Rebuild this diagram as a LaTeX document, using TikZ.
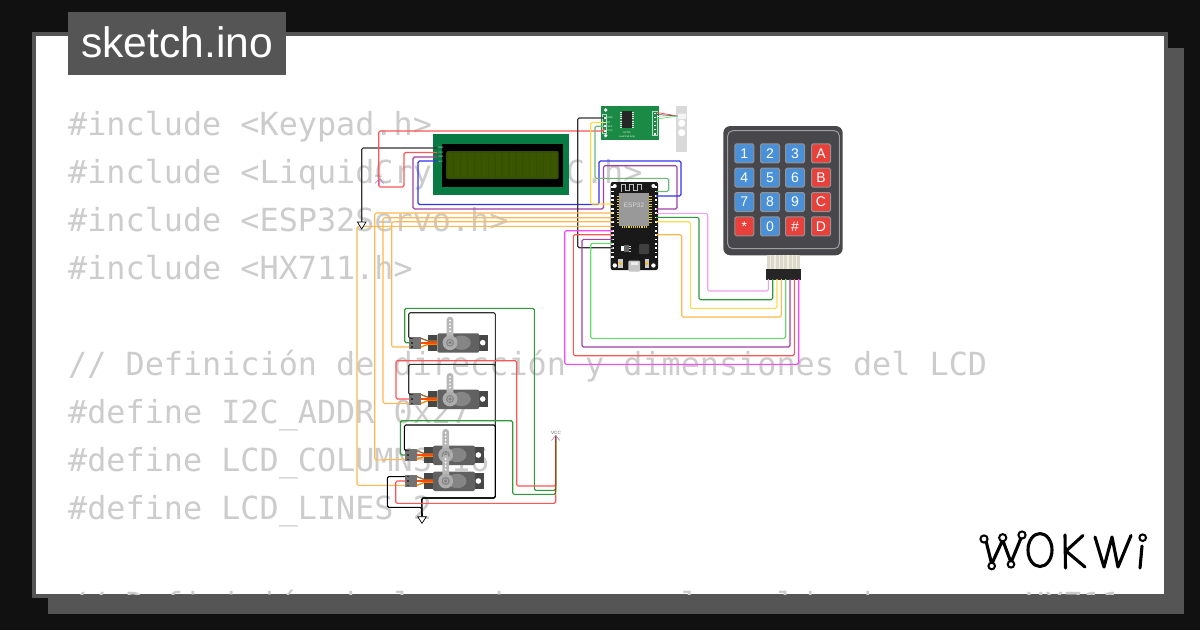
\documentclass[tikz,border=0pt]{standalone}
\usepackage{fontspec}
\setmainfont{Liberation Sans}
\newfontfamily\codefont{DejaVu Sans Mono}
\definecolor{bgdark}{HTML}{111111}
\definecolor{framegray}{HTML}{555555}
\definecolor{codegray}{HTML}{CCCCCC}
\definecolor{wblack}{HTML}{333333}
\definecolor{wred}{HTML}{FF5555}
\definecolor{wblue}{HTML}{3333EE}
\definecolor{wpurple}{HTML}{A040A8}
\definecolor{wgreen}{HTML}{2E9A3A}
\definecolor{wlgreen}{HTML}{66DD66}
\definecolor{wyellow}{HTML}{FFD94A}
\definecolor{worange}{HTML}{FFB84D}
\definecolor{wmagenta}{HTML}{FF44FF}
\definecolor{wviolet}{HTML}{F0A0F0}
\definecolor{keyblue}{HTML}{4A90D9}
\definecolor{keyred}{HTML}{E8413C}
\definecolor{lcdgreen}{HTML}{087A44}
\definecolor{lcdscreen}{HTML}{355000}
\definecolor{lcdcell}{HTML}{3A5600}
\definecolor{hxgreen}{HTML}{1A8A45}
\definecolor{kpbody}{HTML}{47474C}
\definecolor{ribbon}{HTML}{DDD9C8}
\definecolor{vccline}{HTML}{B03A1A}
\tikzset{
  wire/.style={line width=1.1pt,rounded corners=1.5pt},
  codeline/.style={anchor=base west,inner sep=0pt,text=codegray,font=\codefont\fontsize{31.8}{32}\selectfont},
  tinylabel/.style={inner sep=0pt,text=#1,font=\fontsize{2.4}{3}\selectfont},
  keycap/.style={draw=gray!85!white,fill=#1,line width=1pt,rounded corners=1.5pt,minimum size=19pt,inner sep=0pt,text=white,font=\fontsize{14}{14}\selectfont},
  logo/.style={line width=3.1pt,line cap=round,line join=round,black},
  logodot/.style={draw=black,fill=white,line width=2pt},
  gndsym/.style={draw=black,fill=white,line width=0.7pt},
  pinsq/.style={fill=white}
}
\newcommand{\servopart}[3]{%
  \begin{scope}[shift={(#1,#2)}]
    \fill[black!55!white] (0,-6) rectangle (11.7,6.3);
    \foreach \yy in {-4.4,0,4.3}{\fill[black!80] (1.5,\yy-0.8) rectangle (4,\yy+0.8);}
    \draw[line width=1.3pt,color=brown!80!black] (11.7,-4.4) -- (19,-1.6) -- (28,-1.6);
    \draw[line width=1.3pt,color=orange] (11.7,4.3) -- (19,1.6) -- (28,1.6);
    \draw[line width=1.6pt,color=orange!60!red] (11.7,0) -- (19,0) -- (28,0);
    \fill[black!72] (19,-8) rectangle (28,8);
    \draw[line width=1.3pt,color=brown!80!black] (19,-1.6) -- (28,-1.6);
    \draw[line width=1.3pt,color=orange] (19,1.6) -- (28,1.6);
    \draw[line width=1.6pt,color=orange!60!red] (19,0) -- (28,0);
    \fill[black!72] (69,-8) rectangle (78.5,8);
    \fill[white] (73.4,0) circle (2.8);
    \fill[black!62,rounded corners=2pt] (28,-9.4) rectangle (70,10);
    \fill[black!48] (52,0) ellipse (9.5 and 7.2);
    \fill[black!28,rounded corners=3pt] (37.4,-26) rectangle (44,0);
    \fill[black!32] (40.7,0) circle (7.4);
    \fill[black!48] (40.7,0) circle (4);
    \draw[black!28,line width=0.6pt] (40.7,0) circle (2.2);
    \foreach \yy in {-22,-18.5,-15,-11.5}{\fill[white] (40.7,\yy) circle (1);}
    \coordinate (#3g) at (0,-4.4);
    \coordinate (#3v) at (0,0);
    \coordinate (#3s) at (0,4.3);
  \end{scope}}
\begin{document}
\begin{tikzpicture}[x=1pt,y=-1pt]
\useasboundingbox (0,0) rectangle (1200,630);
\fill[bgdark] (0,0) rectangle (1200,630);
\fill[framegray] (48,48) rectangle (1184,614);
\fill[framegray] (32,32) rectangle (1168,598);
\fill[white] (36,36) rectangle (1164,594);
% code behind the picture
\begin{scope}
\clip (36,36) rectangle (1164,594);
\node[codeline] (c1) at (68,135) {\#include <Keypad.h>};
\node[codeline] (c2) at (68,183) {\#include <LiquidCrystal\_I2C.h>};
\node[codeline] (c3) at (68,231) {\#include <ESP32Servo.h>};
\node[codeline] (c4) at (68,279) {\#include <HX711.h>};
\node[codeline] (c5) at (68,375) {// Definición de dirección y dimensiones del LCD};
\node[codeline] (c6) at (68,423) {\#define I2C\_ADDR 0x27};
\node[codeline] (c7) at (68,471) {\#define LCD\_COLUMNS 16};
\node[codeline] (c8) at (68,519) {\#define LCD\_LINES 2};
\node[codeline] (c9) at (68,615) {// Definición de los pines para la celda de carga HX711};
\end{scope}
% title tab
\fill[framegray] (68,12) rectangle (286,75);
\node[anchor=base west,inner sep=0pt,text=white,font=\fontsize{42.6}{43}\selectfont] (title) at (81,57.3) {sketch.ino};
% LCD
\fill[lcdgreen] (433.3,134) rectangle (569.3,195);
\fill[black] (441.7,143.7) rectangle (562.7,186.7);
\fill[lcdscreen,rounded corners=2pt] (446,151) rectangle (558.7,179);
\foreach \i in {0,...,15}{\fill[lcdcell] (447.5+\i*6.9,153) rectangle (453+\i*6.9,177);}
\node[tinylabel=gray!30] (lgnd) at (441,148) {GND};
\node[tinylabel=gray!30] (lvcc) at (441,152.5) {VCC};
\node[tinylabel=gray!30] (lsda) at (441,157) {SDA};
\node[tinylabel=gray!30] (lscl) at (441,161.2) {SCL};
\foreach \n/\yy in {lcdgnd/148,lcdvcc/152.5,lcdsda/157,lcdscl/161}{\coordinate (\n) at (437,\yy);}
% HX711
\fill[hxgreen] (601,106) rectangle (658.7,140);
\fill[black!85] (622.3,110.7) rectangle (632.3,127.7);
\foreach \i in {0,...,7}{\fill[white!85!gray] (620.3,111.7+\i*2.2) rectangle (622.3,112.7+\i*2.2);\fill[white!85!gray] (632.3,111.7+\i*2.2) rectangle (634.3,112.7+\i*2.2);}
\fill[white] (605.7,110) circle (1.8);
\fill[white] (605.7,135.7) circle (1.8);
\draw[white!70!hxgreen,line width=0.6pt] (602.5,114.5) rectangle (606.5,133);
\draw[white!70!hxgreen,line width=0.6pt] (652.5,111) rectangle (657,135);
\foreach \yy in {118,122.5,126.2,130.7}{\fill[white] (604,\yy-0.8) rectangle (605.5,\yy+0.8);}
\foreach \i in {0,...,5}{\fill[white] (654,112.5+\i*4.1) rectangle (655.7,114+\i*4.1);}
\node[tinylabel=white] (hxa) at (610,118) {GND};
\node[tinylabel=white] (hxb) at (609,122.5) {DT};
\node[tinylabel=white] (hxc) at (610,126.2) {SCK};
\node[tinylabel=white] (hxd) at (610,130.7) {VCC};
\node[tinylabel=white] (hxe) at (627,133) {HX711};
\node[tinylabel=white] (hxf) at (627,137) {Load Cell Amp};
\foreach \n/\yy in {hxgnd/118,hxdt/122.5,hxsck/126.2,hxvcc/130.7}{\coordinate (\n) at (604,\yy);}
% load cell
\fill[gray!30] (676.3,106) rectangle (687,151.7);
\fill[white!92!gray,rounded corners=1pt] (677.5,113.5) rectangle (686,119);
\fill[white] (681.7,123.3) circle (3.6);
\fill[white] (681.7,132.7) circle (3.6);
\coordinate (lc) at (677.5,116);
\coordinate (hxr) at (657,112.5);
\coordinate (hxk) at (657,114.5);
\coordinate (hxw) at (657,116.6);
\coordinate (hxg) at (657,119);
\draw[line width=0.7pt,color=red!75!white] (hxr) -- (lc);
\draw[line width=0.7pt,color=black!70] (hxk) -- (lc);
\draw[line width=0.7pt,color=gray!20] (hxw) -- (lc);
\draw[line width=0.7pt,color=wlgreen] (hxg) -- (lc);
% ESP32
\fill[black!90,rounded corners=2pt] (610.7,182) rectangle (658,270);
\foreach \i in {0,...,16}{
  \fill[white] (611.4,186.3+\i*4.36) rectangle (614.2,187.9+\i*4.36);
  \fill[white] (654.5,186.3+\i*4.36) rectangle (657.3,187.9+\i*4.36);}
\draw[white!75!black,line width=0.6pt] (621,192) -- (621,184.5) -- (625,184.5) -- (625,190) -- (629,190) -- (629,184.5) -- (633,184.5) -- (633,190) -- (637,190) -- (637,184.5) -- (641,184.5) -- (641,190);
\fill[gray!80!white] (619,192.7) rectangle (649.3,226);
\foreach \i in {0,...,13}{\fill[yellow!70!brown] (622+\i*1.85,226.2) rectangle (623+\i*1.85,228);}
\foreach \i in {0,...,10}{\fill[yellow!70!brown] (616.8,196+\i*2.6) rectangle (619,197+\i*2.6);\fill[yellow!70!brown] (649.3,196+\i*2.6) rectangle (651.5,197+\i*2.6);}
\node[inner sep=0pt,text=gray!30,font=\fontsize{6.5}{7}\selectfont] (esplabel) at (634,205.3) {ESP32};
\fill[white] (620.5,246) rectangle (623.5,251);
\fill[black!60] (624,245) rectangle (629,252);
\fill[white!80!black] (629,245.5) rectangle (631,246.5);\fill[white!80!black] (629,248) rectangle (631,249);\fill[white!80!black] (629,250.5) rectangle (631,251.5);
\fill[black!75,rounded corners=1pt] (639,244) rectangle (649,254);
\fill[white] (614.8,186) circle (2);
\fill[white] (653.4,186) circle (2);
\fill[white] (614.8,265.5) circle (2.2);
\fill[white] (653.4,265.5) circle (2.2);
\fill[gray!40] (618,259) rectangle (622.5,268);
\fill[orange!50!yellow] (620.2,263.5) circle (1.6);
\fill[gray!40] (644.5,259) rectangle (649,268);
\fill[orange!50!yellow] (646.7,263.5) circle (1.6);
\fill[gray!45,rounded corners=1pt] (628.3,260.7) rectangle (640,271.7);
\fill[white!85!gray] (630.5,262) rectangle (638,265);
\foreach \n/\yy in {ea/204,eb/213,ec/217.7,ed/221.7,ee/226.3,ef/230.7,eg/234.7,eh/239.3,ei/243.3,ej/247.7}{\coordinate (\n) at (612.5,\yy);}
\foreach \n/\yy in {ra/191.5,rb/196,rc/209,rd/213.3,re/217.3,rf/221.7,rg/234.7}{\coordinate (\n) at (656,\yy);}
% keypad
\fill[kpbody,rounded corners=7pt] (723.3,126) rectangle (842.7,255.3);
\draw[gray!75!white,line width=1pt,rounded corners=5pt] (727.7,130.7) rectangle (839.3,248.7);
\node[keycap=keyblue] (k1) at (744.3,153.3) {1};
\node[keycap=keyblue] (k2) at (770,153.3) {2};
\node[keycap=keyblue] (k3) at (795,153.3) {3};
\node[keycap=keyred] (kA) at (821,153.3) {A};
\node[keycap=keyblue] (k4) at (744.3,177.5) {4};
\node[keycap=keyblue] (k5) at (770,177.5) {5};
\node[keycap=keyblue] (k6) at (795,177.5) {6};
\node[keycap=keyred] (kB) at (821,177.5) {B};
\node[keycap=keyblue] (k7) at (744.3,202) {7};
\node[keycap=keyblue] (k8) at (770,202) {8};
\node[keycap=keyblue] (k9) at (795,202) {9};
\node[keycap=keyred] (kC) at (821,202) {C};
\node[keycap=keyred] (kS) at (744.3,226.3) {*};
\node[keycap=keyblue] (k0) at (770,226.3) {0};
\node[keycap=keyred] (kH) at (795,226.3) {\#};
\node[keycap=keyred] (kD) at (821,226.3) {D};
\fill[ribbon!45!white] (766.7,255.3) rectangle (800,269.3);
\foreach \i in {0,...,7}{\fill[ribbon] (767+\i*4.35,255.3) rectangle (769.8+\i*4.35,269.3);}
\fill[black!85] (765.7,269.3) rectangle (800.7,280.3);
\foreach \n/\xx in {pa/768.3,pb/772.7,pc/777,pd/781.3,pe/785.7,pf/790,pg/794.3,ph/798.7}{\coordinate (\n) at (\xx,279);}
% servos
\servopart{409.3}{342.7}{sa}
\servopart{409.3}{399}{sb}
\servopart{405}{455}{sc}
\servopart{405}{481}{sd}
% power symbols
\coordinate (gnda) at (361.7,222);
\coordinate (gndb) at (422,516.7);
\coordinate (vcca) at (379.3,179);
\coordinate (vccb) at (555.7,435.5);
\node[tinylabel=gray!80!black,font=\fontsize{3.4}{4}\selectfont] (vcclcd) at (378.5,176) {VCC};
\node[tinylabel=gray!80!black,font=\fontsize{4.6}{5}\selectfont] (vccserv) at (556,432.5) {VCC};
% wires LCD
\draw[wire,wblack] (lcdgnd) -- (361.7,148) -- (gnda);
\draw[wire,wred] (lcdvcc) -- (404,152.5) -- (404,187) -- (378.7,187) -- (378.7,131) -- (604,131) -- (hxvcc);
\draw[wire,wpurple] (lcdsda) -- (413,157) -- (413,209) -- (603.5,209) -- (603.5,165.7) -- (677,165.7) -- (677,209) -- (rc);
\draw[wire,wblue] (lcdscl) -- (418,161) -- (418,204.5) -- (599,204.5) -- (599,161) -- (681,161) -- (681,196) -- (rb);
% wires HX711
\draw[wire,wblack] (hxgnd) -- (577.7,118) -- (577.7,247.7) -- (ej);
\draw[wire,wyellow] (hxdt) -- (590.7,122.5) -- (590.7,204) -- (ea);
\draw[wire,wgreen!70!white] (hxsck) -- (595,126.2) -- (595,178.3) -- (668.7,178.3) -- (668.7,191.5) -- (ra);
% wires keypad
\draw[wire,wviolet] (pa) -- (768.3,291) -- (707.7,291) -- (707.7,213.3) -- (rd);
\draw[wire,wgreen] (pb) -- (772.7,299.7) -- (699,299.7) -- (699,217.3) -- (re);
\draw[wire,wyellow] (pc) -- (777,308.3) -- (690.3,308.3) -- (690.3,221.7) -- (rf);
\draw[wire,worange] (pd) -- (781.3,317) -- (681.7,317) -- (681.7,234.7) -- (rg);
\draw[wire,wlgreen] (pe) -- (785.7,338.3) -- (590.7,338.3) -- (590.7,243.3) -- (ei);
\draw[wire,wpurple] (pf) -- (790,347) -- (582,347) -- (582,239.3) -- (eh);
\draw[wire,wred] (pg) -- (794.3,355.7) -- (573.3,355.7) -- (573.3,234.7) -- (eg);
\draw[wire,wmagenta] (ph) -- (798.7,364.3) -- (564.7,364.3) -- (564.7,230.7) -- (ef);
% wires servo signal
\draw[wire,worange] (eb) -- (374.7,213) -- (374.7,460) -- (scs);
\draw[wire,worange] (ec) -- (383,217.7) -- (383,403.3) -- (sbs);
\draw[wire,worange] (ed) -- (391.7,221.7) -- (391.7,347) -- (sas);
\draw[wire,worange] (ee) -- (357,226.3) -- (357,485.3) -- (sds);
% wires servo ground
\draw[wire,wblack] (sag) -- (408.7,338.3) -- (408.7,312.7) -- (495.3,312.7) -- (495.3,498) -- (421.7,498) -- (gndb);
\draw[wire,wblack] (sbg) -- (408.7,394.6) -- (408.7,364.3) -- (495.3,364.3) -- (495.3,498) -- (421.7,498) -- (gndb);
\draw[wire,black] (scg) -- (404.3,450.6) -- (404.3,425) -- (495.3,425) -- (495.3,498) -- (421.7,498) -- (gndb);
\draw[wire,black] (sdg) -- (387.3,476.6) -- (387.3,507.3) -- (421.7,507.3) -- (gndb);
% wires servo power
\draw[wire,wgreen] (sav) -- (404.7,342.7) -- (404.7,308.3) -- (534.3,308.3) -- (534.3,490.3) -- (555.7,490.3) -- (vccb);
\draw[wire,wred] (sbv) -- (396,399) -- (396,360.7) -- (516.7,360.7) -- (516.7,486) -- (555.7,486) -- (vccb);
\draw[wire,wgreen] (scv) -- (400.3,455) -- (400.3,420.7) -- (512.7,420.7) -- (512.7,494.3) -- (555.7,494.3) -- (vccb);
\draw[wire,wred] (sdv) -- (395.7,481) -- (395.7,503.3) -- (555.7,503.3) -- (555.7,494.3);
\draw[line width=1.3pt,vccline] (555.7,494.3) -- (vccb);
% ground and vcc symbols
\draw[gndsym] (357.4,222) -- (366,222) -- (361.7,229) -- cycle;
\draw[gndsym] (417.7,516.7) -- (426.3,516.7) -- (422,523.3) -- cycle;
\draw[wpurple!70!white,line width=0.6pt] (375,183.5) -- (379.3,178.5) -- (383.6,183.5) (379.3,178.5) -- (379.3,187);
\draw[wpurple!70!white,line width=0.6pt] (551.5,440.5) -- (555.7,435.5) -- (559.9,440.5);
% logo
\draw[logo] (986,541) -- (991.7,564) -- (1002.7,540) -- (1011,562.5) -- (1021,538);
\draw[logo] (1040,550) ellipse (12 and 16.5);
\draw[logo] (1065,535) -- (1065.5,568) (1083,535.5) -- (1066,551) -- (1085,567);
\draw[logo] (1095,537) -- (1104,567) -- (1112,537) -- (1118,567) -- (1131,535.5);
\draw[logo] (1142,546) -- (1140,568);
\filldraw[logodot] (984,539) circle (3.6);
\filldraw[logodot] (1002.7,537.7) circle (3.6);
\filldraw[logodot] (1022,535) circle (3.6);
\filldraw[logodot] (991.7,566) circle (3.3);
\filldraw[logodot] (1011,564.3) circle (3.3);
\filldraw[logodot] (1142.7,537.7) circle (3.3);
\end{tikzpicture}
\end{document}
